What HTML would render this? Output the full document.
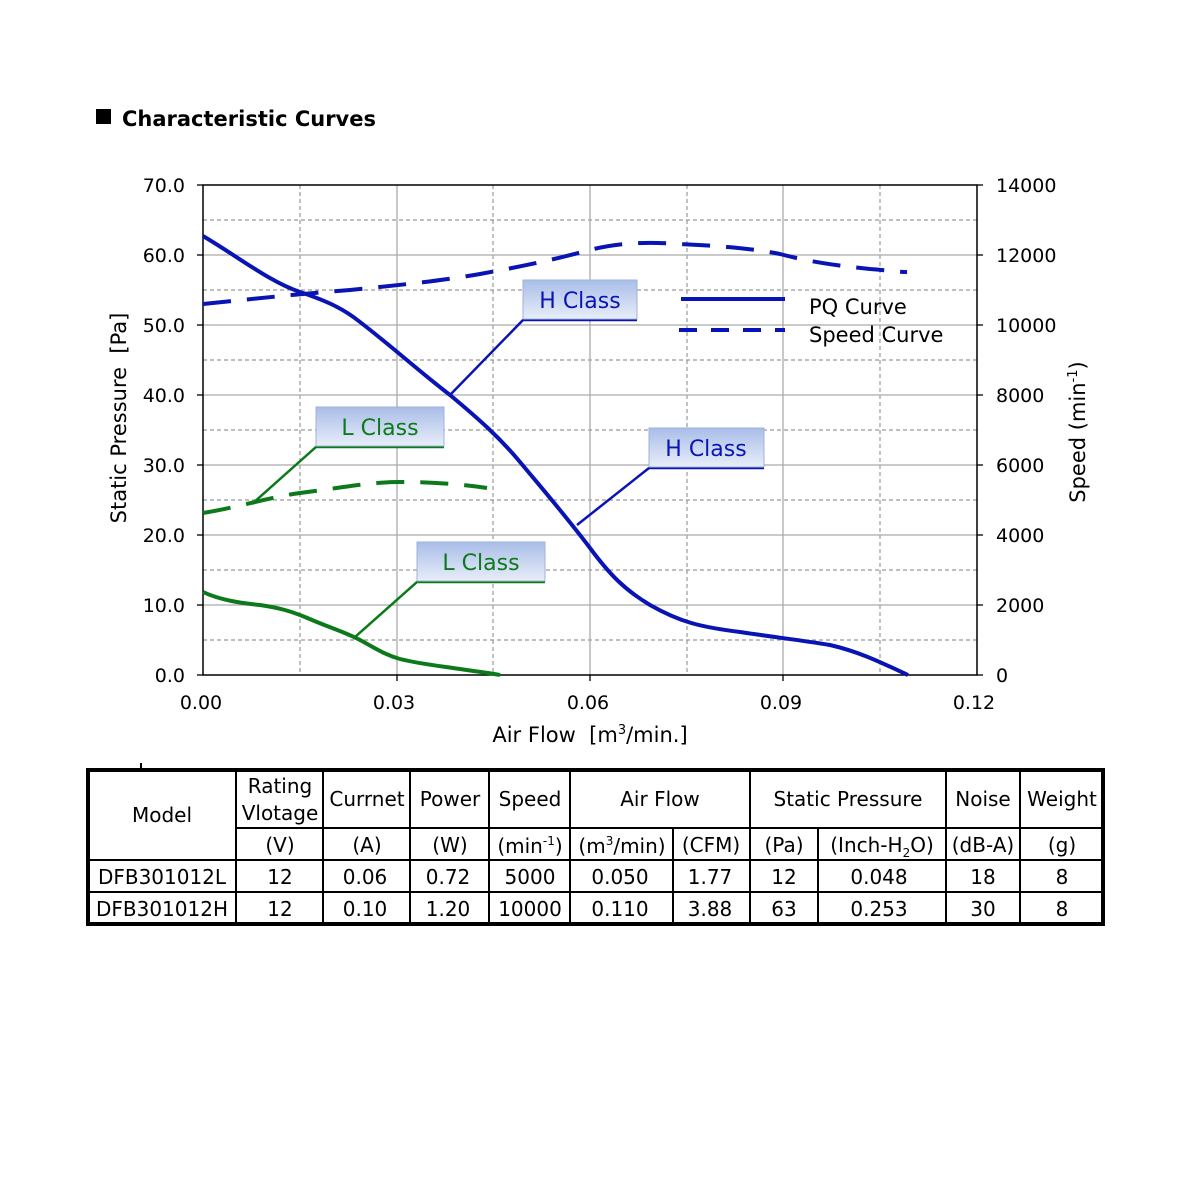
<!DOCTYPE html>
<html><head><meta charset="utf-8"><style>
body{margin:0;background:#fff;width:1200px;height:1200px;overflow:hidden}
svg{display:block}
text{font-family:"DejaVu Sans","Liberation Sans",sans-serif;white-space:pre}
</style></head><body>
<svg width="1200" height="1200" viewBox="0 0 1200 1200">
<defs>
<linearGradient id="g" x1="0" y1="0" x2="0" y2="1"><stop offset="0" stop-color="#a9bde8"/><stop offset="1" stop-color="#e8eef9"/></linearGradient>
</defs>
<rect x="96" y="109" width="15" height="15" fill="#000"/>
<text x="122" y="126" font-size="21" font-weight="bold" fill="#000">Characteristic Curves</text>
<g stroke="#999" stroke-width="1.2" stroke-dasharray="4,3">
<line x1="300" y1="185" x2="300" y2="675"/><line x1="493" y1="185" x2="493" y2="675"/><line x1="687" y1="185" x2="687" y2="675"/><line x1="880" y1="185" x2="880" y2="675"/>
<line x1="203" y1="220" x2="977" y2="220"/><line x1="203" y1="290" x2="977" y2="290"/><line x1="203" y1="360" x2="977" y2="360"/><line x1="203" y1="430" x2="977" y2="430"/><line x1="203" y1="500" x2="977" y2="500"/><line x1="203" y1="570" x2="977" y2="570"/><line x1="203" y1="640" x2="977" y2="640"/>
</g>
<g stroke="#aaa" stroke-width="1.3">
<line x1="397" y1="185" x2="397" y2="675"/><line x1="590" y1="185" x2="590" y2="675"/><line x1="783" y1="185" x2="783" y2="675"/>
<line x1="203" y1="255" x2="977" y2="255"/><line x1="203" y1="325" x2="977" y2="325"/><line x1="203" y1="395" x2="977" y2="395"/><line x1="203" y1="465" x2="977" y2="465"/><line x1="203" y1="535" x2="977" y2="535"/><line x1="203" y1="605" x2="977" y2="605"/>
</g>
<rect x="203" y="185" width="774" height="490" fill="none" stroke="#000" stroke-width="1.5"/>
<g stroke="#000" stroke-width="1.3">
<line x1="197" y1="185" x2="203" y2="185"/><line x1="197" y1="255" x2="203" y2="255"/><line x1="197" y1="325" x2="203" y2="325"/><line x1="197" y1="395" x2="203" y2="395"/><line x1="197" y1="465" x2="203" y2="465"/><line x1="197" y1="535" x2="203" y2="535"/><line x1="197" y1="605" x2="203" y2="605"/><line x1="197" y1="675" x2="203" y2="675"/>
<line x1="977" y1="185" x2="983" y2="185"/><line x1="977" y1="255" x2="983" y2="255"/><line x1="977" y1="325" x2="983" y2="325"/><line x1="977" y1="395" x2="983" y2="395"/><line x1="977" y1="465" x2="983" y2="465"/><line x1="977" y1="535" x2="983" y2="535"/><line x1="977" y1="605" x2="983" y2="605"/><line x1="977" y1="675" x2="983" y2="675"/>
<line x1="397" y1="675" x2="397" y2="681"/><line x1="590" y1="675" x2="590" y2="681"/><line x1="783" y1="675" x2="783" y2="681"/>
</g>
<g font-size="19" fill="#000" text-anchor="end">
<text x="185" y="192">70.0</text><text x="185" y="262">60.0</text><text x="185" y="332">50.0</text><text x="185" y="402">40.0</text><text x="185" y="472">30.0</text><text x="185" y="542">20.0</text><text x="185" y="612">10.0</text><text x="185" y="682">0.0</text>
</g>
<g font-size="19" fill="#000" text-anchor="start">
<text x="996" y="192">14000</text><text x="996" y="262">12000</text><text x="996" y="332">10000</text><text x="996" y="402">8000</text><text x="996" y="472">6000</text><text x="996" y="542">4000</text><text x="996" y="612">2000</text><text x="996" y="682">0</text>
</g>
<g font-size="19" fill="#000" text-anchor="middle">
<text x="201" y="709">0.00</text><text x="394" y="709">0.03</text><text x="588" y="709">0.06</text><text x="781" y="709">0.09</text><text x="974" y="709">0.12</text>
<text x="590" y="742" font-size="21">Air Flow  [m<tspan font-size="13" dy="-8">3</tspan><tspan dy="8">/min.]</tspan></text>
<text transform="translate(126,418) rotate(-90)" font-size="21">Static Pressure  [Pa]</text>
<text transform="translate(1085,432) rotate(-90)" font-size="21">Speed (min<tspan font-size="13" dy="-8">-1</tspan><tspan dy="8">)</tspan></text>
</g>
<g fill="none" stroke-width="4" stroke-linecap="butt" stroke-linejoin="round">
<path stroke="#0a14b4" d="M203,236 C240,258 270,282 300,292 C330,302 345,310 360,322 C390,345 420,372 450,395 C480,420 500,438 520,462 C545,492 565,515 590,548 C610,575 625,590 650,605 C680,622 700,627 740,632 C780,638 800,640 830,645 C860,652 880,662 908,675"/>
<path stroke="#0a14b4" stroke-dasharray="28,16" d="M203,304 C260,298 300,294 350,290 C400,285 440,281 480,274 C530,265 560,258 590,250 C620,242 650,242 680,244 C720,246 750,248 780,254 C810,262 840,266 870,269 C885,270 898,272 907,272"/>
<path stroke="#0c7a1a" stroke-dasharray="28,16" d="M203,513 C240,507 270,497 300,493 C340,488 370,482 400,482 C430,482 460,484 487,488"/>
<path stroke="#0c7a1a" d="M203,592 C220,600 240,603 260,605 C280,608 290,611 305,617 C330,628 345,632 360,640 C375,648 385,655 400,659 C420,664 440,666 460,669 C480,672 490,673 500,675"/>
</g>
<line x1="681" y1="299" x2="785" y2="299" stroke="#0a14b4" stroke-width="4"/>
<line x1="679" y1="330" x2="785" y2="330" stroke="#0a14b4" stroke-width="4" stroke-dasharray="18,14"/>
<text x="809" y="314" font-size="21" fill="#000">PQ Curve</text>
<text x="809" y="342" font-size="21" fill="#000">Speed Curve</text>
<g stroke-width="2.5" fill="none">
<polyline stroke="#0a14b4" points="450,395 523,320 637,320"/>
<polyline stroke="#0a14b4" points="577,525 649,468 764,468"/>
<polyline stroke="#0c7a1a" points="252,504 316,447 444,447"/>
<polyline stroke="#0c7a1a" points="355,637 417,582 545,582"/>
</g>
<rect x="523" y="280" width="114" height="39" fill="url(#g)" stroke="#9fb2d8"/>
<rect x="649" y="428" width="115" height="39" fill="url(#g)" stroke="#9fb2d8"/>
<rect x="316" y="407" width="128" height="39" fill="url(#g)" stroke="#9fb2d8"/>
<rect x="417" y="542" width="128" height="39" fill="url(#g)" stroke="#9fb2d8"/>
<g font-size="22" text-anchor="middle">
<text x="580" y="308" fill="#0a14b4">H Class</text>
<text x="706" y="456" fill="#0a14b4">H Class</text>
<text x="380" y="435" fill="#0c7a1a">L Class</text>
<text x="481" y="570" fill="#0c7a1a">L Class</text>
</g>
<rect x="140" y="763" width="2" height="5" fill="#000"/>
<g stroke="#000" stroke-width="2">
<line x1="236" y1="828" x2="1103" y2="828"/>
<line x1="88" y1="860" x2="1103" y2="860"/>
<line x1="88" y1="892" x2="1103" y2="892"/>
<line x1="236" y1="770" x2="236" y2="924"/><line x1="323" y1="770" x2="323" y2="924"/><line x1="410" y1="770" x2="410" y2="924"/><line x1="489" y1="770" x2="489" y2="924"/><line x1="570" y1="770" x2="570" y2="924"/><line x1="673" y1="828" x2="673" y2="924"/><line x1="750" y1="770" x2="750" y2="924"/><line x1="818" y1="828" x2="818" y2="924"/><line x1="946" y1="770" x2="946" y2="924"/><line x1="1020" y1="770" x2="1020" y2="924"/>
</g>
<rect x="88" y="770" width="1015" height="154" fill="none" stroke="#000" stroke-width="4"/>
<g font-size="20" fill="#000" text-anchor="middle">
<text x="162" y="822">Model</text>
<text x="280" y="793">Rating</text><text x="280" y="820">Vlotage</text>
<text x="367" y="806">Currnet</text><text x="450" y="806">Power</text><text x="530" y="806">Speed</text>
<text x="660" y="806">Air Flow</text><text x="848" y="806">Static Pressure</text>
<text x="983" y="806">Noise</text><text x="1062" y="806">Weight</text>
<text x="280" y="852">(V)</text><text x="367" y="852">(A)</text><text x="450" y="852">(W)</text>
<text x="530" y="853">(min<tspan font-size="12" dy="-8">-1</tspan><tspan dy="8">)</tspan></text>
<text x="622" y="853">(m<tspan font-size="12" dy="-8">3</tspan><tspan dy="8">/min)</tspan></text>
<text x="711" y="852">(CFM)</text><text x="784" y="852">(Pa)</text>
<text x="882" y="852">(Inch-H<tspan font-size="12" dy="5">2</tspan><tspan dy="-5">O)</tspan></text>
<text x="983" y="852">(dB-A)</text><text x="1062" y="852">(g)</text>
<text x="162" y="884">DFB301012L</text><text x="280" y="884">12</text><text x="365" y="884">0.06</text><text x="448" y="884">0.72</text><text x="530" y="884">5000</text><text x="620" y="884">0.050</text><text x="710" y="884">1.77</text><text x="784" y="884">12</text><text x="879" y="884">0.048</text><text x="983" y="884">18</text><text x="1062" y="884">8</text>
<text x="162" y="916">DFB301012H</text><text x="280" y="916">12</text><text x="365" y="916">0.10</text><text x="448" y="916">1.20</text><text x="530" y="916">10000</text><text x="620" y="916">0.110</text><text x="710" y="916">3.88</text><text x="784" y="916">63</text><text x="879" y="916">0.253</text><text x="983" y="916">30</text><text x="1062" y="916">8</text>
</g>
</svg>
</body></html>
